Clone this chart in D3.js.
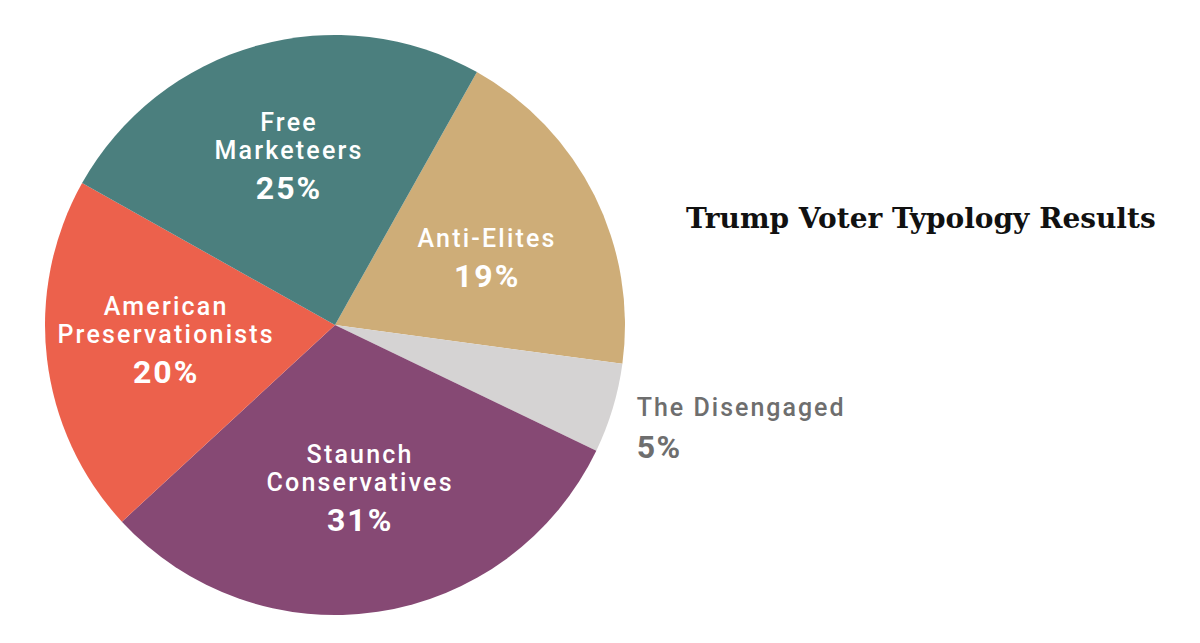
<!DOCTYPE html>
<html>
<head>
<meta charset="utf-8">
<script src="https://cdn.jsdelivr.net/npm/d3@7"></script>
<style>
  body { margin: 0; background: #fff; }
  .label { font-family: Roboto, "Noto Sans", sans-serif; font-weight: 500; }
</style>
</head>
<body>
<svg width="1200" height="643"></svg>
<script>
// chart data
var groups = [["Anti-Elites"], ["The Disengaged"], ["Staunch", "Conservatives"],
              ["American", "Preservationists"], ["Free", "Marketeers"]];
var shares = [19, 5, 31, 20, 25];
var colors = ["#cead78", "#d5d3d3", "#864974", "#ec614c", "#4b7f7e"];
var outside = [false, true, false, false, false];
var title = "Trump Voter Typology Results";

var svg = d3.select("svg"),
    cx = 335, cy = 325, radius = 290;

var data = shares.map(function (v, i) {
    return {name: groups[i], value: v, color: colors[i], outside: outside[i]};
});

// pie layout, rotated so first slice starts ~29 degrees past top
var start = 29.3 * Math.PI / 180;
var pie = d3.pie()
    .value(function (d) { return d.value; })
    .sort(null)
    .startAngle(start)
    .endAngle(start + 2 * Math.PI);

var arc = d3.arc().innerRadius(0).outerRadius(radius);
var labelArc = d3.arc().innerRadius(170).outerRadius(170);
var outerArc = d3.arc().innerRadius(315).outerRadius(315);

var g = svg.append("g")
    .attr("transform", "translate(" + cx + "," + cy + ")");

var arcs = pie(data);

g.selectAll("path")
    .data(arcs)
    .enter().append("path")
    .attr("d", arc)
    .attr("fill", function (d) { return d.data.color; });

// labels
arcs.forEach(function (d) {
    var lines = d.data.name;
    if (d.data.outside) {
        var p = outerArc.centroid(d);
        var t = g.append("text").attr("class", "label").attr("fill", "#6e6e6e");
        t.append("tspan").attr("x", p[0]).attr("y", p[1])
            .attr("font-size", 25).attr("letter-spacing", 2).text(lines.join(" "));
        t.append("tspan").attr("x", p[0]).attr("y", p[1] + 42)
            .attr("font-size", 32).attr("font-weight", 700).attr("letter-spacing", 1.5)
            .text(d.data.value + "%");
        return;
    }
    var c = labelArc.centroid(d);
    var pctY = c[1] + 38;
    var t2 = g.append("text").attr("class", "label")
        .attr("fill", "#fff").attr("text-anchor", "middle");
    lines.forEach(function (s, i) {
        t2.append("tspan").attr("x", c[0])
            .attr("y", pctY - 40 - 28 * (lines.length - 1 - i))
            .attr("font-size", 25).attr("letter-spacing", 2.2).text(s);
    });
    t2.append("tspan").attr("x", c[0]).attr("y", pctY)
        .attr("font-size", 32).attr("font-weight", 700).attr("letter-spacing", 2)
        .text(d.data.value + "%");
});

// title
svg.append("text")
    .attr("x", 686)
    .attr("y", 228)
    .attr("font-family", "'DejaVu Serif', serif")
    .attr("font-weight", 700)
    .attr("font-size", 28)
    .attr("fill", "#111")
    .text(title);
</script>
</body>
</html>
